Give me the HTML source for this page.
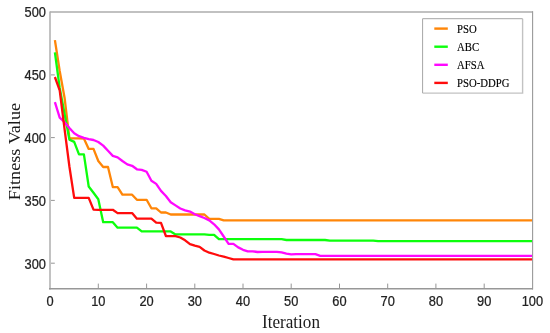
<!DOCTYPE html>
<html lang="en"><head><meta charset="utf-8"><title>Fitness Value vs Iteration</title>
<style>html,body{margin:0;padding:0;background:#fff;overflow:hidden}svg{display:block}</style></head>
<body>
<svg width="550" height="333" viewBox="0 0 550 333">
<rect width="550" height="333" fill="#fff"/>
<g fill="none" stroke-linejoin="round" stroke-linecap="butt" stroke-width="2.3">
<polyline stroke="#ff8608" points="54.9,40.1 59.7,71.0 64.6,98.0 69.4,138.3 79.0,138.3 83.9,138.5 88.7,148.9 93.5,148.9 98.3,161.0 103.2,167.0 108.0,167.0 112.8,187.1 117.6,187.1 122.4,194.7 132.1,194.7 136.9,199.8 146.6,199.8 151.4,208.3 156.2,208.3 161.0,212.5 165.9,212.5 170.7,214.5 204.4,214.5 209.3,218.8 218.9,218.8 223.7,220.3 532.4,220.3"/>
<polyline stroke="#0cff0c" points="54.9,52.4 59.7,88.0 64.6,114.0 69.4,139.6 74.2,141.9 79.0,154.3 83.9,154.3 88.7,186.5 93.5,192.8 98.3,199.2 103.2,222.2 112.8,222.2 117.6,227.7 136.9,227.7 141.7,231.4 170.7,231.4 175.5,234.4 204.4,234.4 209.3,234.9 214.1,234.9 218.9,239.2 281.6,239.2 286.4,240.0 325.0,240.0 329.8,240.7 373.2,240.7 378.1,241.2 532.4,241.2"/>
<polyline stroke="#ff08ff" points="54.9,102.1 59.7,117.7 64.6,122.2 69.4,127.9 74.2,133.3 79.0,136.2 83.9,137.8 88.7,139.1 93.5,140.0 98.3,142.0 103.2,145.6 108.0,150.8 112.8,155.9 117.6,157.3 122.4,161.0 127.3,164.4 132.1,165.8 136.9,169.3 141.7,169.9 146.6,171.8 151.4,180.7 156.2,183.9 161.0,190.9 165.9,196.0 170.7,202.2 175.5,205.4 180.3,208.5 185.1,210.4 190.0,211.6 194.8,214.2 199.6,216.1 204.4,218.0 209.3,220.4 214.1,224.3 218.9,229.4 223.7,236.5 228.6,243.8 233.4,243.8 238.2,247.4 243.0,249.8 247.8,251.3 252.7,251.3 257.5,252.0 262.3,251.8 276.8,251.8 281.6,252.4 286.4,253.6 291.2,254.3 296.1,254.1 315.4,254.1 320.2,255.8 532.4,255.8"/>
<polyline stroke="#ff0c0c" points="54.9,77.0 59.7,90.4 64.6,129.4 69.4,166.5 74.2,197.9 88.7,197.9 93.5,209.6 98.3,209.8 112.8,209.8 117.6,213.1 132.1,213.1 136.9,218.7 151.4,218.7 156.2,222.6 161.0,222.8 165.9,236.0 170.7,236.1 175.5,236.1 180.3,237.5 185.1,240.3 190.0,244.1 194.8,245.7 199.6,246.9 204.4,250.5 209.3,252.7 214.1,254.0 218.9,255.5 223.7,256.6 228.6,258.0 233.4,259.4 532.4,259.4"/>
</g>
<path d="M51 263.2H54.8 M51 200.4H54.8 M51 137.6H54.8 M51 74.9H54.8 M98.3 288V283.6 M146.6 288V283.6 M194.8 288V283.6 M243.0 288V283.6 M291.2 288V283.6 M339.5 288V283.6 M387.7 288V283.6 M435.9 288V283.6 M484.2 288V283.6" stroke="#8a8a8a" stroke-width="0.9" fill="none"/>
<rect x="49" y="11.5" width="2" height="278" fill="#c2c2c2"/>
<path d="M50 12H532.9" stroke="#acacac" stroke-width="1.5" fill="none"/>
<path d="M532.6 11.3V289.4" stroke="#9a9a9a" stroke-width="1.1" fill="none"/>
<path d="M49 288.8H532.9" stroke="#979797" stroke-width="1.4" fill="none"/>
<g font-family="'Liberation Sans', Arial, sans-serif" font-size="13.8" fill="#222" stroke="#222" stroke-width="0.25">
<text transform="translate(45.9,268.6) scale(0.93,1)" text-anchor="end">300</text>
<text transform="translate(45.9,205.8) scale(0.93,1)" text-anchor="end">350</text>
<text transform="translate(45.9,143.0) scale(0.93,1)" text-anchor="end">400</text>
<text transform="translate(45.9,80.3) scale(0.93,1)" text-anchor="end">450</text>
<text transform="translate(45.9,17.1) scale(0.93,1)" text-anchor="end">500</text>
<text transform="translate(50.1,306.4) scale(0.93,1)" text-anchor="middle">0</text>
<text transform="translate(98.3,306.4) scale(0.93,1)" text-anchor="middle">10</text>
<text transform="translate(146.6,306.4) scale(0.93,1)" text-anchor="middle">20</text>
<text transform="translate(194.8,306.4) scale(0.93,1)" text-anchor="middle">30</text>
<text transform="translate(243.0,306.4) scale(0.93,1)" text-anchor="middle">40</text>
<text transform="translate(291.2,306.4) scale(0.93,1)" text-anchor="middle">50</text>
<text transform="translate(339.5,306.4) scale(0.93,1)" text-anchor="middle">60</text>
<text transform="translate(387.7,306.4) scale(0.93,1)" text-anchor="middle">70</text>
<text transform="translate(435.9,306.4) scale(0.93,1)" text-anchor="middle">80</text>
<text transform="translate(484.2,306.4) scale(0.93,1)" text-anchor="middle">90</text>
<text transform="translate(532.4,306.4) scale(0.93,1)" text-anchor="middle">100</text>
</g>
<g font-family="'Liberation Serif', 'Times New Roman', serif" fill="#1a1a1a">
<text x="262" y="327.8" font-size="18.8" textLength="58" lengthAdjust="spacingAndGlyphs">Iteration</text>
<text transform="translate(20.2,200.2) rotate(-90)" font-size="17.5" textLength="97.3" lengthAdjust="spacingAndGlyphs">Fitness Value</text>
</g>
<rect x="422.6" y="18.7" width="100" height="74.4" fill="#fff"/>
<path d="M522.6 18.7V93.1H422.6" fill="none" stroke="#c2c2c2" stroke-width="1.4"/>
<path d="M422.6 93.1V18.7H522.6" fill="none" stroke="#a6a6a6" stroke-width="1"/>
<g font-family="'Liberation Serif', 'Times New Roman', serif" font-size="11.7" fill="#000" stroke="#000" stroke-width="0.15">
<path d="M434.3 28.6H447.8" stroke="#ff8608" stroke-width="2.4"/>
<text transform="translate(457.1,33.1) scale(0.918,1)">PSO</text>
<path d="M434.3 46.7H447.8" stroke="#0cff0c" stroke-width="2.4"/>
<text transform="translate(457.1,51.2) scale(0.918,1)">ABC</text>
<path d="M434.3 64.8H447.8" stroke="#ff08ff" stroke-width="2.4"/>
<text transform="translate(457.1,69.3) scale(0.918,1)">AFSA</text>
<path d="M434.3 82.9H447.8" stroke="#ff0c0c" stroke-width="2.4"/>
<text transform="translate(457.1,87.4) scale(0.918,1)">PSO-DDPG</text>
</g>
</svg>
</body></html>
